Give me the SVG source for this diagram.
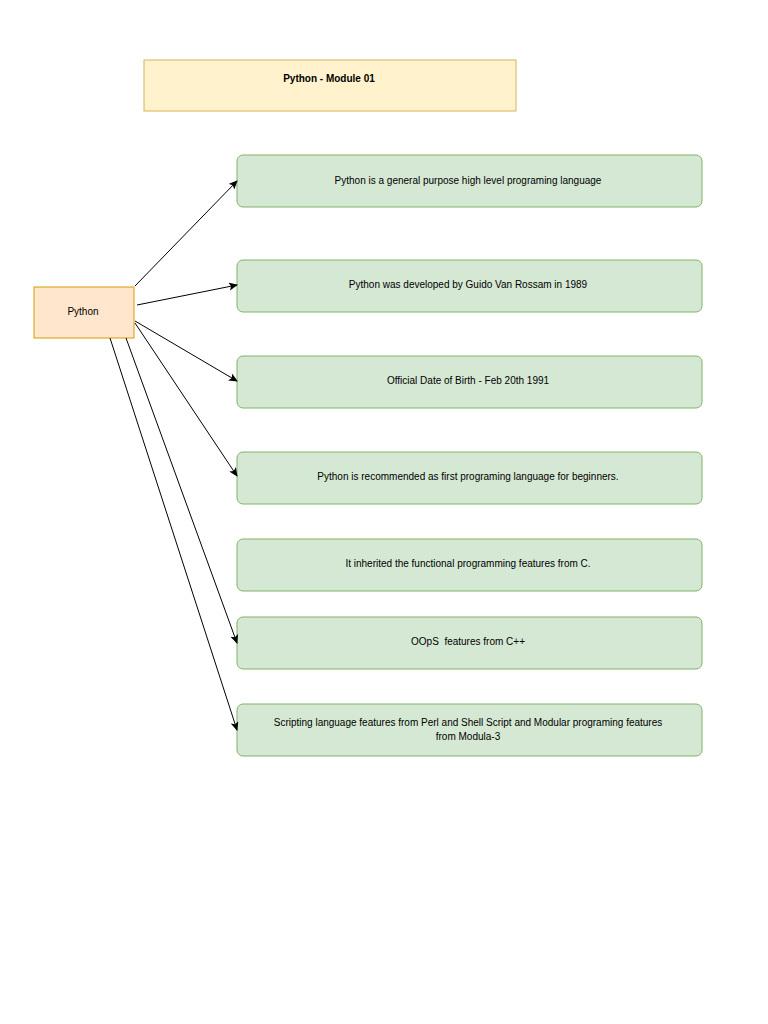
<svg xmlns="http://www.w3.org/2000/svg" width="768" height="1024" viewBox="0 0 768 1024">
<style>
text{font-family:"Liberation Sans",Arial,sans-serif;font-size:10px;fill:#000;text-anchor:middle;dominant-baseline:middle}
.g{fill:#d5e8d4;stroke:#82b366;stroke-width:1}
.c{stroke:#000;stroke-width:1;fill:none;marker-end:url(#a)}
</style>
<defs><marker id="a" markerWidth="10" markerHeight="10" refX="8" refY="4" orient="auto" markerUnits="userSpaceOnUse"><path d="M0,0 L9,4 L0,8 L2,4 Z" fill="#000"/></marker></defs>
<rect width="768" height="1024" fill="#fff"/>
<g id="title"><rect x="144" y="60" width="372" height="51" fill="#fff2cc" stroke="#d6b656"/><text x="329" y="79" font-weight="bold">Python - Module 01</text></g>
<g id="python"><rect x="34" y="287" width="100" height="51" fill="#ffe6cc" stroke="#d79b00"/><text x="83" y="312">Python</text></g>
<g id="n1"><rect class="g" x="237" y="155" width="465" height="52" rx="6"/><text x="468" y="181">Python is a general purpose high level programing language</text></g>
<g id="n2"><rect class="g" x="237" y="260" width="465" height="52" rx="6"/><text x="468" y="285">Python was developed by Guido Van Rossam in 1989</text></g>
<g id="n3"><rect class="g" x="237" y="356" width="465" height="52" rx="6"/><text x="468" y="381">Official Date of Birth - Feb 20th 1991</text></g>
<g id="n4"><rect class="g" x="237" y="452" width="465" height="52" rx="6"/><text x="468" y="477">Python is recommended as first programing language for beginners.</text></g>
<g id="n5"><rect class="g" x="237" y="539" width="465" height="52" rx="6"/><text x="468" y="564">It inherited the functional programming features from C.</text></g>
<g id="n6"><rect class="g" x="237" y="617" width="465" height="52" rx="6"/><text x="468" y="642" xml:space="preserve">OOpS  features from C++</text></g>
<g id="n7"><rect class="g" x="237" y="704" width="465" height="52" rx="6"/><text x="468" y="723">Scripting language features from Perl and Shell Script and Modular programing features</text><text x="468" y="737">from Modula-3</text></g>
<g id="connectors">
<path class="c" d="M135,286 L237,181"/>
<path class="c" d="M137,305 L237,285"/>
<path class="c" d="M135,321 L237,381"/>
<path class="c" d="M135,323 L237,476"/>
<path class="c" d="M126,338 L237,643"/>
<path class="c" d="M110,338 L237,730"/>
</g>
</svg>
